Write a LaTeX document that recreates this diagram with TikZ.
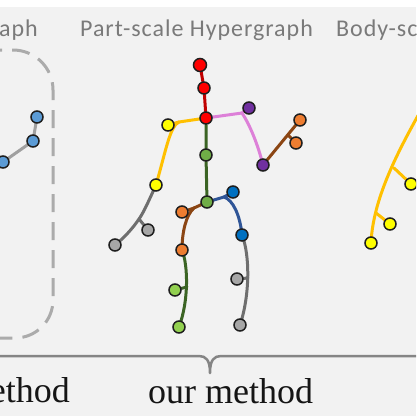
\documentclass[tikz,border=0pt]{standalone}
\usepackage{fontspec}
\newfontfamily\titlefont[LetterSpace=4]{Carlito}
\newfontfamily\capfont{Liberation Serif}
\pgfdeclarelayer{bg}
\pgfdeclarelayer{edges}
\pgfsetlayers{bg,edges,main}
\definecolor{bgc}{HTML}{F2F2F2}
\definecolor{titc}{HTML}{7A7A7A}
\definecolor{outl}{HTML}{1E1E1E}
\definecolor{nRed}{HTML}{FF0000}
\definecolor{eRed}{HTML}{C00000}
\definecolor{nYel}{HTML}{FFFF00}
\definecolor{eYel}{HTML}{FFC000}
\definecolor{nGrn}{HTML}{70AD47}
\definecolor{eGrn}{HTML}{3B6424}
\definecolor{nLGrn}{HTML}{92D050}
\definecolor{nOra}{HTML}{ED7D31}
\definecolor{eBrn}{HTML}{8B4513}
\definecolor{nBlu}{HTML}{0070C0}
\definecolor{eBlu}{HTML}{2F5597}
\definecolor{nPur}{HTML}{7030A0}
\definecolor{ePnk}{HTML}{DD80D8}
\definecolor{nGry}{HTML}{A6A6A6}
\definecolor{eGry}{HTML}{6E6E6E}
\definecolor{nSky}{HTML}{5B9BD5}
\definecolor{eLGry}{HTML}{A0A0A0}
\definecolor{dashc}{HTML}{ABABAB}
\definecolor{bracec}{HTML}{858585}
\definecolor{capc}{HTML}{151515}
\tikzset{
  jt/.style={circle, draw=outl, fill=#1, line width=1.5pt, inner sep=0pt, minimum size=12pt},
  he/.style={draw=#1, line width=3pt, line cap=round},
  titletext/.style={text=titc, font=\titlefont\fontsize{24}{24}\selectfont, inner sep=0pt},
  captext/.style={text=capc, font=\capfont\fontsize{36}{36}\selectfont, inner sep=0pt},
}
\begin{document}
\begin{tikzpicture}[x=1pt,y=-1pt]
\useasboundingbox (0,0) rectangle (416,416);
\clip (0,0) rectangle (416,416);
\begin{pgfonlayer}{bg}
  \fill[bgc] (0,0) rectangle (416,416);
  \fill[white] (0,0) rectangle (416,7);
\end{pgfonlayer}

% titles
\node[titletext, anchor=base east] (t1) at (38,36) {aph};
\node[titletext, anchor=base west] (t2) at (80,36) {Part-scale Hypergraph};
\node[titletext, anchor=base west] (t3) at (336,36) {Body-sc};

% dashed box (left graph)
\draw[dashc, line width=3pt, dash pattern=on 18pt off 10pt, dash phase=6pt]
  (-10,50) -- (13,50) .. controls (35.1,50) and (53,67.9) .. (53,90)
  -- (53,300) .. controls (53,321) and (36,338) .. (15,338) -- (-10,338);

% left graph
\node[jt=nSky] (lb1) at (37,117) {};
\node[jt=nSky] (lb2) at (33,141) {};
\node[jt=nSky] (lb3) at (3,162) {};
\begin{pgfonlayer}{edges}
  \draw[he=eLGry] (lb1) -- (lb2) -- (lb3);
\end{pgfonlayer}

% part-scale skeleton nodes
\node[jt=nRed, minimum size=13pt] (head) at (200,65) {};
\node[jt=nRed] (r2) at (204,88) {};
\node[jt=nRed] (neck) at (206,118) {};
\node[jt=nGrn] (s1) at (206,155) {};
\node[jt=nGrn] (pel) at (207,202) {};
\node[jt=nYel] (y1) at (168,125) {};
\node[jt=nYel] (y2) at (156,185) {};
\node[jt=nGry] (g1) at (115,245) {};
\node[jt=nGry] (g2) at (148,230) {};
\node[jt=nPur] (p1) at (249,108) {};
\node[jt=nPur] (p2) at (263,165) {};
\node[jt=nOra] (o1) at (300,120) {};
\node[jt=nOra] (o2) at (296,143) {};
\node[jt=nBlu] (b1) at (233,192) {};
\node[jt=nBlu] (b2) at (242,235) {};
\node[jt=nOra] (h1) at (182,212) {};
\node[jt=nOra] (h2) at (182,250) {};
\node[jt=nLGrn] (l1) at (175,290) {};
\node[jt=nLGrn] (l2) at (179,327) {};
\node[jt=nGry] (q1) at (237,279) {};
\node[jt=nGry] (q2) at (240,325) {};

% branch points
\coordinate (ya) at (179,122);
\coordinate (ga) at (139,219);
\coordinate (pa) at (242,113);
\coordinate (oa) at (288,135);
\coordinate (ba) at (224,197);
\coordinate (ha) at (194,208);
\coordinate (la) at (187,287);
\coordinate (qa) at (248,278);

\begin{pgfonlayer}{edges}
  \draw[he=eRed] (head) -- (r2) -- (neck);
  \draw[he=eGrn] (neck) -- (s1) -- (pel);
  \draw[he=eYel] (neck.center) -- (ya) .. controls (170,126) and (166,150) .. (y2.center);
  \draw[he=eYel] (ya) -- (y1);
  \draw[he=eGry] (y2.center) .. controls (150,198) and (144,212) .. (ga) .. controls (133,228) and (124,238) .. (g1.center);
  \draw[he=eGry] (ga) -- (g2);
  \draw[he=ePnk] (neck.center) -- (pa) .. controls (250,125) and (258,145) .. (p2.center);
  \draw[he=ePnk] (pa) -- (p1);
  \draw[he=eBrn] (p2) -- (o1);
  \draw[he=eBrn] (oa) -- (o2);
  \draw[he=eBlu] (pel.center) -- (ba) .. controls (233,200) and (240,215) .. (b2.center);
  \draw[he=eBlu] (ba) -- (b1);
  \draw[he=eBrn] (pel.center) -- (ha) .. controls (186,215) and (182,232) .. (h2.center);
  \draw[he=eBrn] (ha) -- (h1);
  \draw[he=eGrn] (h2.center) .. controls (188,265) and (189,300) .. (l2.center);
  \draw[he=eGrn] (la) -- (l1);
  \draw[he=eGry] (b2.center) .. controls (250,255) and (250,295) .. (q2.center);
  \draw[he=eGry] (qa) -- (q1);
\end{pgfonlayer}

% body-scale (right)
\coordinate (ytop) at (420,112);
\node[jt=nYel] (k1) at (411,184) {};
\node[jt=nYel] (k2) at (390,224) {};
\node[jt=nYel] (k3) at (371,243) {};
\coordinate (ka) at (394,168);
\coordinate (kb) at (376,213);
\begin{pgfonlayer}{edges}
  \draw[he=eYel] (ytop) .. controls (396,155) and (373,200) .. (k3.center);
  \draw[he=eYel] (ka) -- (k1);
  \draw[he=eYel] (kb) -- (k2);
\end{pgfonlayer}

% brace
\coordinate (brL) at (-5,356);
\coordinate (brT) at (210,373);
\coordinate (brR) at (421,356);
\draw[bracec, line width=2.5pt, line join=round]
  (brL) -- (199,356) .. controls (206,356) and (210,360) .. (brT)
  .. controls (210,360) and (214,356) .. (221,356) -- (brR);

% captions
\node[captext, anchor=base east] (c1) at (70,402) {ethod};
\node[captext, anchor=base west] (c2) at (148,403) {our method};
\end{tikzpicture}
\end{document}
